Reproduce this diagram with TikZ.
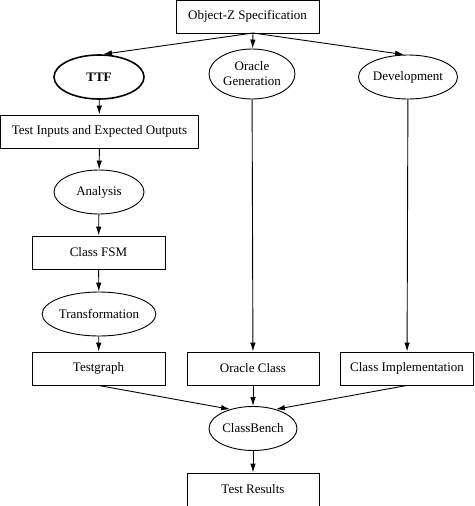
\documentclass[tikz,border=0pt]{standalone}
\usepackage{fontspec}
\setmainfont{Liberation Serif}
\usetikzlibrary{arrows.meta,shapes.geometric}
\begin{document}
\begin{tikzpicture}[x=1pt,y=-1pt,line width=0.9pt,
	box/.style={draw,rectangle,minimum width=133pt,minimum height=33pt,inner sep=0pt},
	proc/.style={draw,ellipse,minimum width=90pt,minimum height=44pt,inner sep=0pt},
	flow/.style={-{Latex[length=9pt,width=5.5pt]}}]
	\tikzstyle{every node}+=[font=\fontsize{13}{15}\selectfont]
	\useasboundingbox (0,0) rectangle (474,506);
	\node [box,minimum width=143pt] (spec) at (247.5,16.5) {Object-Z Specification};
	\coordinate (fork) at (253,33);
	\node [proc,line width=1.6pt] (ttf) at (99,77) {\textbf{TTF}};
	\node [proc,minimum width=86pt,minimum height=50pt,align=center] (oracle) at (252,74) {Oracle\\Generation};
	\node [proc] (dev) at (408,77) {Development};
	\node [box,minimum width=198pt] (inputs) at (99.5,131.5) {Test Inputs and Expected Outputs};
	\node [proc] (analysis) at (99,192) {Analysis};
	\node [box] (fsm) at (98.5,252.5) {Class FSM};
	\node [proc,minimum width=100pt] (trans) at (99,314) {Transformation};
	\node [box] (tgraph) at (98.5,368.5) {Testgraph};
	\node [box,minimum width=132pt] (oclass) at (253,368.5) {Oracle Class};
	\node [box] (impl) at (407,368.5) {Class Implementation};
	\node [proc,minimum width=88pt] (bench) at (253,428.5) {ClassBench};
	\node [box,minimum width=132pt] (results) at (253,489.5) {Test Results};
	% top level
	\draw [flow] (fork) -- (ttf.80);
	\draw [flow] (fork) -- (oracle);
	\draw [flow] (fork) -- (dev.100);
	% left chain
	\draw [flow] (ttf) -- (inputs);
	\draw [flow] (inputs) -- (analysis);
	\draw [flow] (analysis) -- (fsm);
	\draw [flow] (fsm) -- (trans);
	\draw [flow] (trans) -- (tgraph);
	% middle and right
	\draw [flow] (oracle) -- (oclass);
	\draw [flow] (dev) -- (impl);
	% bench
	\draw [flow] (tgraph.south) -- (bench.140);
	\draw [flow] (oclass) -- (bench);
	\draw [flow] (impl.south) -- (bench.40);
	\draw [flow] (bench) -- (results);
\end{tikzpicture}
\end{document}
